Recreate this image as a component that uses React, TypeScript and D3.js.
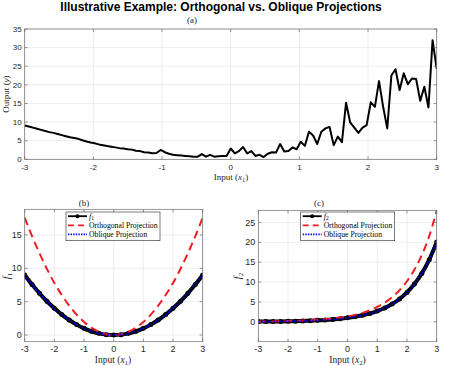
import * as d3 from 'd3'
import type { ReactNode } from 'react'

const W = 474
const H = 366

// panel (a): noisy observations, x = -3 : 0.06 : 3
const obsY = [
  9.1, 8.8, 8.5, 8.2, 7.9, 7.6, 7.3, 7.1, 6.8, 6.5,
  6.2, 5.9, 5.7, 5.5, 5.1, 4.8, 4.5, 4.3, 4.0, 3.8,
  3.6, 3.4, 3.2, 3.0, 2.9, 2.7, 2.6, 2.3, 2.2, 1.9,
  1.8, 1.6, 1.7, 2.5, 1.9, 1.5, 1.2, 1.1, 1.0, 0.9,
  0.8, 0.7, 0.7, 1.4, 0.7, 1.2, 0.7, 0.8, 0.9, 0.9,
  2.9, 1.6, 2.2, 3.3, 1.6, 2.2, 0.9, 1.2, 0.6, 1.5,
  1.9, 1.8, 4.1, 2.1, 2.2, 3.2, 2.7, 4.7, 3.6, 7.4,
  6.4, 4.1, 7.4, 8.3, 8.7, 3.8, 6.1, 4.6, 15.2, 9.9,
  8.5, 7.1, 8.5, 9.2, 15.3, 14.1, 21.0, 14.1, 8.3, 22.5,
  24.2, 18.6, 23.1, 20.2, 21.7, 21.6, 15.7, 19.5, 13.9, 32.0,
  24.3,
]
const obsX = d3.range(obsY.length).map(i => -3 + 0.06 * i)

// panels (b) and (c): component functions and their projections
const gridX = [-3, -2.75, -2.5, -2.25, -2, -1.75, -1.5, -1.25, -1, -0.75, -0.5, -0.25, 0,
  0.25, 0.5, 0.75, 1, 1.25, 1.5, 1.75, 2, 2.25, 2.5, 2.75, 3]
const f1 = [9, 7.56, 6.25, 5.06, 4, 3.06, 2.25, 1.56, 1, 0.56, 0.25, 0.06, 0,
  0.06, 0.25, 0.56, 1, 1.56, 2.25, 3.06, 4, 5.06, 6.25, 7.56, 9]
const orth1 = [17.6, 14.8, 12.25, 9.9, 7.8, 6.0, 4.4, 3.05, 1.96, 1.1, 0.49, 0.12, 0,
  0.12, 0.49, 1.1, 1.96, 3.05, 4.4, 6.0, 7.8, 9.9, 12.25, 14.8, 17.6]
const obl1 = [9, 7.56, 6.25, 5.06, 4, 3.06, 2.25, 1.56, 1, 0.56, 0.25, 0.06, 0,
  0.06, 0.25, 0.56, 1, 1.56, 2.25, 3.06, 4, 5.06, 6.25, 7.56, 9]
const f2 = [0.05, 0.06, 0.08, 0.11, 0.14, 0.17, 0.22, 0.29, 0.37, 0.47, 0.61, 0.78, 1,
  1.28, 1.65, 2.12, 2.72, 3.49, 4.48, 5.75, 7.39, 9.49, 12.18, 15.64, 20.09]
const orth2 = [0.07, 0.09, 0.11, 0.15, 0.19, 0.24, 0.31, 0.4, 0.51, 0.66, 0.84, 1.08, 1.35,
  1.75, 2.25, 2.9, 3.75, 4.8, 6.2, 7.95, 10.2, 13.1, 16.8, 21.6, 28.0]
const obl2 = [0.05, 0.06, 0.08, 0.11, 0.14, 0.17, 0.22, 0.29, 0.37, 0.47, 0.61, 0.78, 1,
  1.28, 1.65, 2.12, 2.72, 3.49, 4.48, 5.75, 7.39, 9.49, 12.18, 15.64, 20.09]

const xTicks = [-3, -2, -1, 0, 1, 2, 3]
const yTicksA = [0, 5, 10, 15, 20, 25, 30, 35]
const yTicksB = [0, 5, 10, 15]
const yTicksC = [0, 5, 10, 15, 20, 25]
const legendLabels = ['Orthogonal Projection', 'Oblique Projection']

const SANS = '"Liberation Sans", Arial, Helvetica, sans-serif'
const SERIF = '"Liberation Serif", "Times New Roman", serif'
const INK = '#262626'
const GRID = '#e3e3e3'
const RED = '#ee1c25'
const BLUE = '#0000ff'

type Scale = d3.ScaleLinear<number, number>

interface AxesProps {
  id: string
  box: [number, number, number, number] // left, top, right, bottom
  xDomain: [number, number]
  yDomain: [number, number]
  yTicks: number[]
  fontSize: number
  tickLabelY: number
  children: (x: Scale, y: Scale) => ReactNode
}

function Axes({ id, box, xDomain, yDomain, yTicks, fontSize, tickLabelY, children }: AxesProps) {
  const [l, t, r, b] = box
  const x = d3.scaleLinear(xDomain, [l, r])
  const y = d3.scaleLinear(yDomain, [b, t])
  const tl = 3
  return (
    <g>
      <defs>
        <clipPath id={id}>
          <rect x={l} y={t} width={r - l} height={b - t} />
        </clipPath>
      </defs>
      <rect x={l} y={t} width={r - l} height={b - t} fill="#fff" />
      {xTicks.map(v => (
        <line key={'gx' + v} x1={x(v)} x2={x(v)} y1={t} y2={b} stroke={GRID} strokeWidth={0.6} />
      ))}
      {yTicks.map(v => (
        <line key={'gy' + v} x1={l} x2={r} y1={y(v)} y2={y(v)} stroke={GRID} strokeWidth={0.6} />
      ))}
      <g clipPath={`url(#${id})`}>{children(x, y)}</g>
      <rect x={l} y={t} width={r - l} height={b - t} fill="none" stroke="#6e6e6e" strokeWidth={0.7} />
      {xTicks.map(v => (
        <g key={'tx' + v} stroke="#6e6e6e" strokeWidth={0.7}>
          <line x1={x(v)} x2={x(v)} y1={b} y2={b - tl} />
          <line x1={x(v)} x2={x(v)} y1={t} y2={t + tl} />
        </g>
      ))}
      {yTicks.map(v => (
        <g key={'ty' + v} stroke="#6e6e6e" strokeWidth={0.7}>
          <line x1={l} x2={l + tl} y1={y(v)} y2={y(v)} />
          <line x1={r} x2={r - tl} y1={y(v)} y2={y(v)} />
        </g>
      ))}
      {xTicks.map(v => (
        <text key={'lx' + v} x={x(v)} y={tickLabelY} textAnchor="middle"
          fontFamily={SANS} fontSize={fontSize} fill={INK}>{v}</text>
      ))}
      {yTicks.map(v => (
        <text key={'ly' + v} x={l - 3} y={y(v)} dy="0.35em" textAnchor="end"
          fontFamily={SANS} fontSize={fontSize} fill={INK}>{v}</text>
      ))}
    </g>
  )
}

function XLabel({ x, y, sub, size }: { x: number; y: number; sub: string; size: number }) {
  return (
    <text x={x} y={y} textAnchor="middle" fontFamily={SERIF} fontSize={size} fill={INK}>
      Input (<tspan fontStyle="italic">x</tspan>
      <tspan dy={2} fontSize={size * 0.7}>{sub}</tspan>
      <tspan dy={-2}>)</tspan>
    </text>
  )
}

function Legend({ x, y, sub }: { x: number; y: number; sub: string }) {
  const w = 94
  const h = 28.7
  const rows = [y + 4.2, y + 13.4, y + 22.4]
  return (
    <g>
      <rect x={x} y={y} width={w} height={h} fill="#fff" stroke={INK} strokeWidth={0.6} />
      <line x1={x + 2} x2={x + 21} y1={rows[0]} y2={rows[0]} stroke="#000" strokeWidth={1.8} />
      <circle cx={x + 11.5} cy={rows[0]} r={2} fill="#000" />
      <line x1={x + 2} x2={x + 21} y1={rows[1]} y2={rows[1]} stroke={RED} strokeWidth={1.8}
        strokeDasharray="6,4" />
      <line x1={x + 2} x2={x + 21} y1={rows[2]} y2={rows[2]} stroke={BLUE} strokeWidth={1.8}
        strokeDasharray="1.4,1.2" />
      <text x={x + 23} y={rows[0]} dy="0.3em" fontFamily={SERIF} fontSize={8} fill="#000">
        <tspan fontStyle="italic">f</tspan>
        <tspan dy={1.8} fontSize={5.5}>{sub}</tspan>
      </text>
      {legendLabels.map((s, i) => (
        <text key={s} x={x + 23} y={rows[i + 1]} dy="0.33em" fontFamily={SERIF} fontSize={7.7} fill="#000">{s}</text>
      ))}
    </g>
  )
}

// thick marker line for the function, dashed red and dotted blue projections on top
function ProjectionCurves({ x, y, base, orth, obl }: {
  x: Scale; y: Scale; base: number[]; orth: number[]; obl: number[]
}) {
  const path = (vals: number[]) =>
    d3.line<number>().x((_, i) => x(gridX[i])).y(v => y(v)).curve(d3.curveCatmullRom)(vals) ?? ''
  return (
    <g fill="none">
      <path d={path(base)} stroke="#000" strokeWidth={4} strokeLinejoin="round" />
      {base.map((v, i) => (
        <circle key={i} cx={x(gridX[i])} cy={y(v)} r={2.5} fill="#000" />
      ))}
      <path d={path(orth)} stroke={RED} strokeWidth={2} strokeDasharray="8,5" />
      <path d={path(obl)} stroke={BLUE} strokeWidth={1.6} strokeDasharray="1.5,1.5" />
    </g>
  )
}

export default function App() {
  return (
    <svg width={W} height={H} viewBox={`0 0 ${W} ${H}`}
      style={{ position: 'absolute', left: 0, top: 0, background: '#fff' }}>
      <text x={221} y={11} textAnchor="middle" fontFamily={SANS} fontWeight="bold" fontSize={12} fill="#000">
        Illustrative Example: Orthogonal vs. Oblique Projections
      </text>

      {/* (a) observed output */}
      <text x={192} y={22.5} textAnchor="middle" fontFamily={SERIF} fontSize={9} fill={INK}>(a)</text>
      <Axes id="clip-a" box={[24.7, 29, 436.7, 159.3]} xDomain={[-3, 3]} yDomain={[0, 35]}
        yTicks={yTicksA} fontSize={8} tickLabelY={169.5}>
        {(x, y) => (
          <path
            d={d3.line<number>().x((_, i) => x(obsX[i])).y(v => y(v))(obsY) ?? ''}
            fill="none" stroke="#000" strokeWidth={2} strokeLinejoin="round" />
        )}
      </Axes>
      <XLabel x={231} y={180} sub="1" size={9} />
      <text transform="translate(9,94) rotate(-90)" textAnchor="middle" fontFamily={SERIF} fontSize={9} fill={INK}>
        Output (<tspan fontStyle="italic">y</tspan>)
      </text>

      {/* (b) first component */}
      <text x={84} y={205.5} textAnchor="middle" fontFamily={SERIF} fontSize={9} fill={INK}>(b)</text>
      <Axes id="clip-b" box={[24.7, 209.3, 202.7, 341.7]} xDomain={[-3, 3]} yDomain={[-1, 18.85]}
        yTicks={yTicksB} fontSize={9} tickLabelY={352}>
        {(x, y) => <ProjectionCurves x={x} y={y} base={f1} orth={orth1} obl={obl1} />}
      </Axes>
      <Legend x={66} y={212} sub="1" />
      <XLabel x={113} y={363} sub="1" size={9.5} />
      <text transform="translate(10,276) rotate(-90)" textAnchor="middle" fontFamily={SERIF} fontSize={10} fill={INK}>
        <tspan fontStyle="italic">f</tspan><tspan dy={2} fontSize={7}>1</tspan>
      </text>

      {/* (c) second component */}
      <text x={319} y={206} textAnchor="middle" fontFamily={SERIF} fontSize={9} fill={INK}>(c)</text>
      <Axes id="clip-c" box={[258.3, 210.5, 436.7, 341.7]} xDomain={[-3, 3]} yDomain={[-5, 28]}
        yTicks={yTicksC} fontSize={9} tickLabelY={352}>
        {(x, y) => <ProjectionCurves x={x} y={y} base={f2} orth={orth2} obl={obl2} />}
      </Axes>
      <Legend x={300.7} y={212} sub="2" />
      <XLabel x={347.5} y={363} sub="2" size={9.5} />
      <text transform="translate(241,276) rotate(-90)" textAnchor="middle" fontFamily={SERIF} fontSize={10} fill={INK}>
        <tspan fontStyle="italic">f</tspan><tspan dy={2} fontSize={7}>2</tspan>
      </text>
    </svg>
  )
}
